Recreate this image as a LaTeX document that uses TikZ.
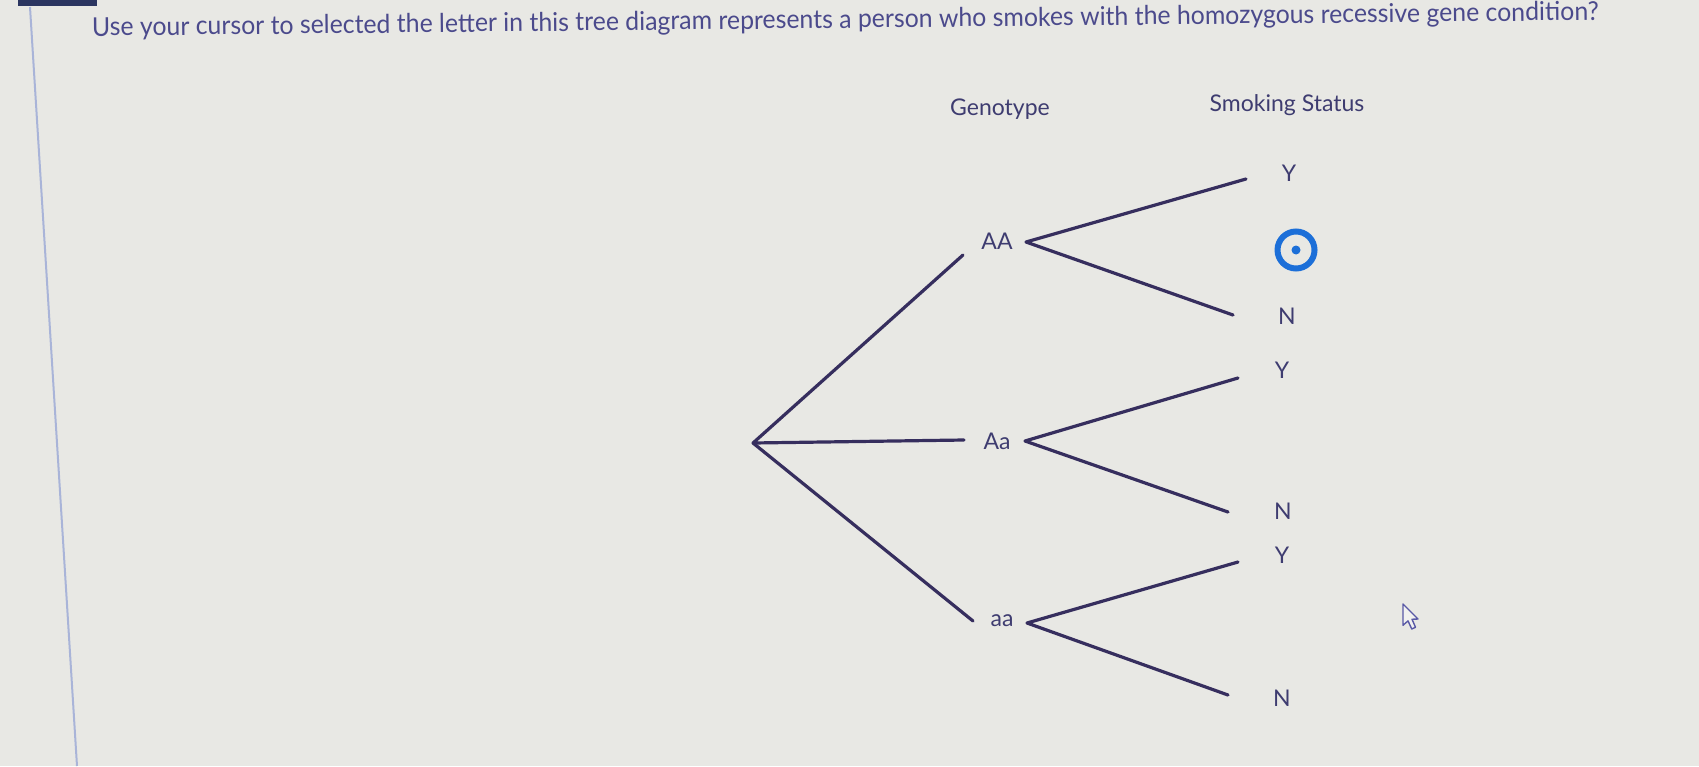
\documentclass[tikz,border=0pt]{standalone}
\usepackage{fontspec}
\setmainfont{Lato}
\usepackage{graphicx}
\definecolor{bgc}{HTML}{E8E8E4}
\definecolor{titlec}{HTML}{4B4A8C}
\definecolor{txtc}{HTML}{3E3C70}
\definecolor{linec}{HTML}{362E5E}
\definecolor{ringc}{HTML}{1C6FD8}
\definecolor{borderc}{HTML}{A9B4D8}
\definecolor{tabc}{HTML}{2B3560}
\tikzset{
  lbl/.style={text=txtc, font=\fontsize{23}{26}\selectfont, inner sep=0pt, anchor=center},
  branch/.style={draw=linec, line width=3.2pt, line cap=round, line join=round},
}
\begin{document}
\begin{tikzpicture}[x=1pt,y=-1pt]
\fill[bgc] (0,0) rectangle (1699,766);
\useasboundingbox (0,0) rectangle (1699,766);
% window edge
\fill[tabc] (18,0) rectangle (97,6);
\draw[borderc, line width=2pt] (30,7) -- (77,766);
% title
\node[anchor=base west, text=titlec, inner sep=0pt, rotate=0.6, font=\fontsize{26}{30}\selectfont] (title) at (92,36)
  {\scalebox{0.955}[1]{Use your cursor to selected the letter in this tree diagram represents a person who smokes with the homozygous recessive gene condition?}};
% headers
\node[lbl] (geno) at (1000,109) {Genotype};
\node[lbl] (smoke) at (1287,105) {Smoking Status};
% genotype labels
\node[lbl] (AA) at (997,241) {AA};
\node[lbl] (Aa) at (997,441) {Aa};
\node[lbl] (aa) at (1002,621) {aa};
% outcome labels
\node[lbl] (Y1) at (1289,173) {Y};
\node[lbl] (N1) at (1287,316) {N};
\node[lbl] (Y2) at (1282,370) {Y};
\node[lbl] (N2) at (1283,511) {N};
\node[lbl] (Y3) at (1282,555) {Y};
\node[lbl] (N3) at (1282,698) {N};
% selection marker
\node[circle, draw=ringc, line width=6pt, minimum size=37pt, inner sep=0pt] (sel) at (1296,250) {};
\fill[ringc] (sel.center) circle (4.5pt);
% coordinates
\coordinate (root) at (753,443);
\coordinate (eAA) at (963,255);
\coordinate (eAa) at (964,440);
\coordinate (eaa) at (973,621);
\coordinate (pAA) at (1026,242);
\coordinate (pAa) at (1025,441);
\coordinate (paa) at (1027,623);
\coordinate (tY1) at (1246,179);
\coordinate (tN1) at (1233,315);
\coordinate (tY2) at (1238,378);
\coordinate (tN2) at (1228,512);
\coordinate (tY3) at (1238,562);
\coordinate (tN3) at (1228,695);
% branches
\draw[branch] (eAA) -- (root) -- (eAa);
\draw[branch] (root) -- (eaa);
\draw[branch] (tY1) -- (pAA) -- (tN1);
\draw[branch] (tY2) -- (pAa) -- (tN2);
\draw[branch] (tY3) -- (paa) -- (tN3);
% mouse cursor
\draw[draw=gray!70!blue, fill=bgc!60!white, line width=1.4pt, line join=round, shift={(1403,604)}, scale=1.25]
  (0,0) -- (0,17) -- (4,13.5) -- (7,20) -- (10,18.6) -- (7.2,12.2) -- (12,12) -- cycle;
\end{tikzpicture}
\end{document}
